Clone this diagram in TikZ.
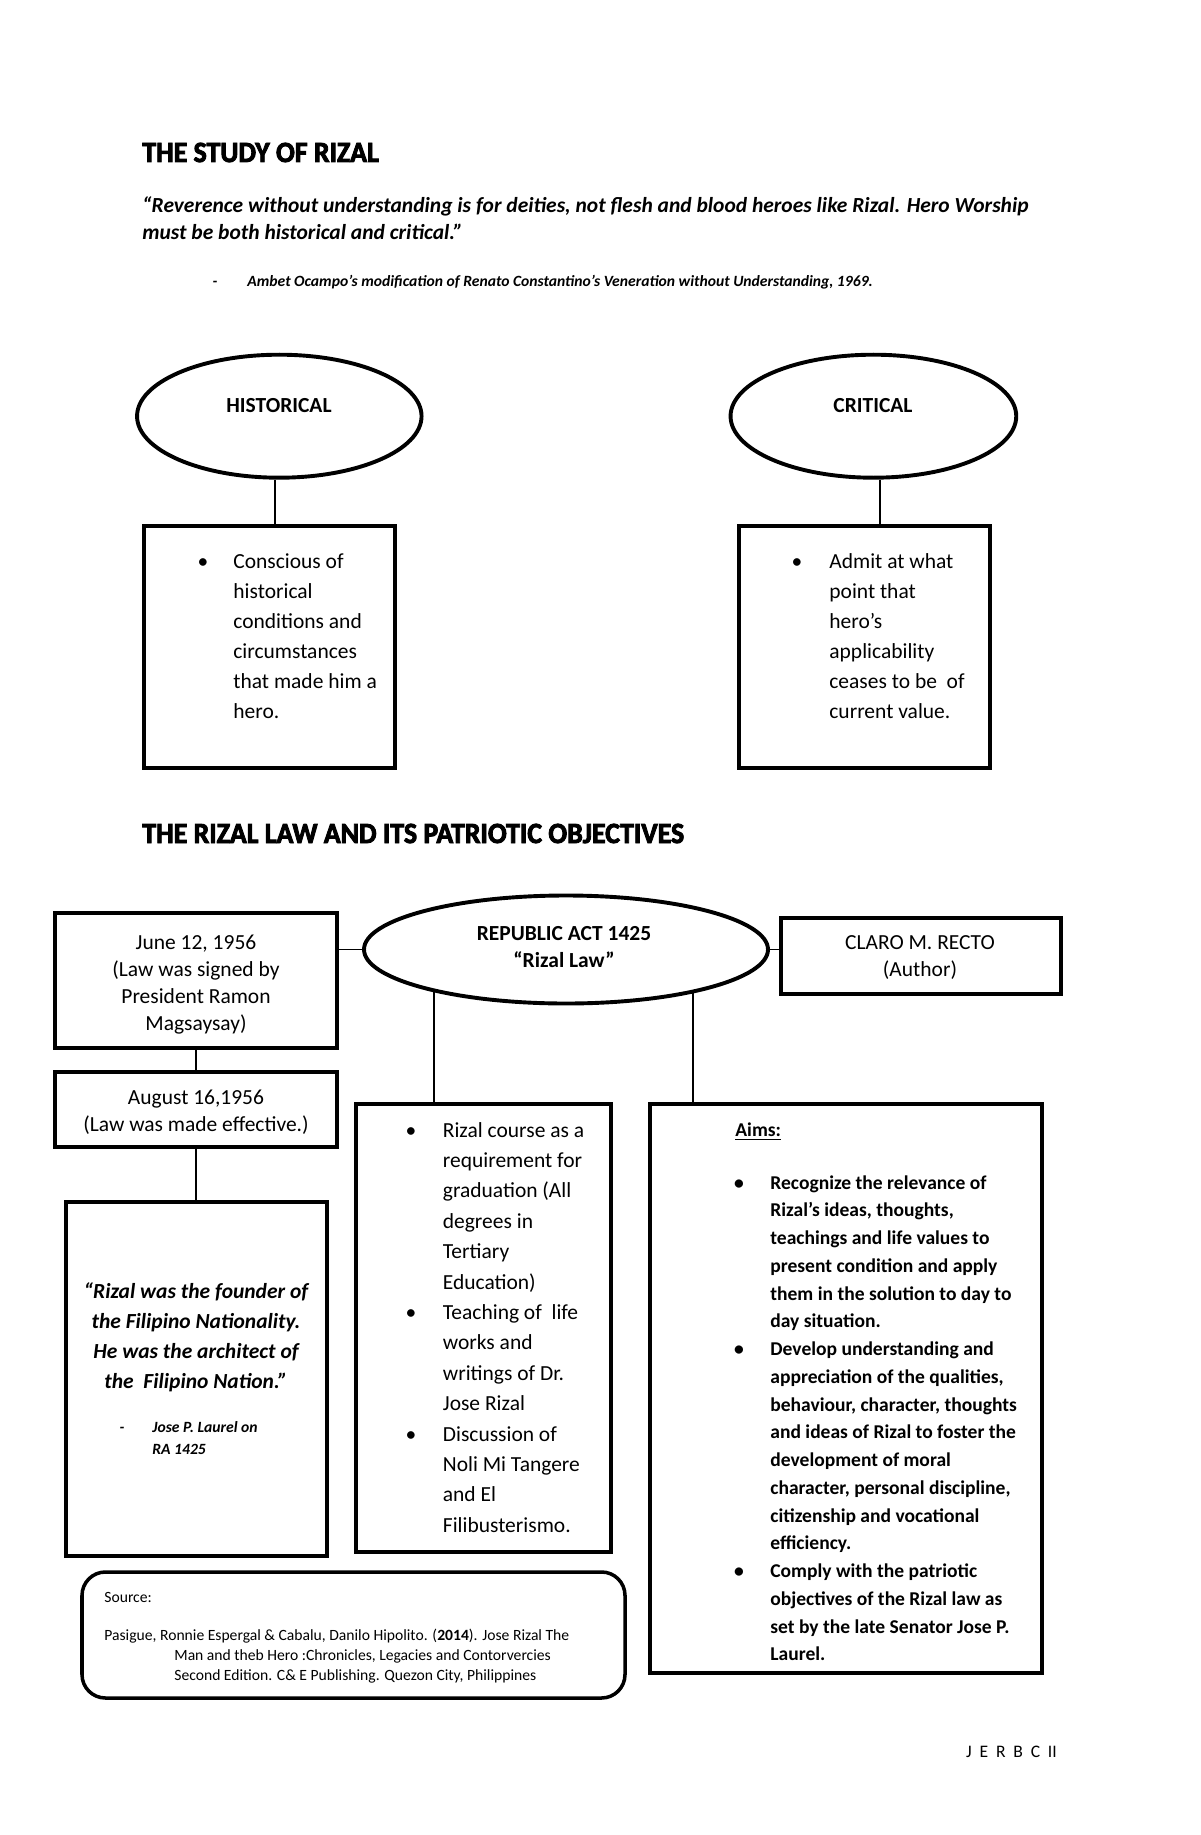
\documentclass[tikz,border=0pt]{standalone}
\usepackage{fontspec}
\setmainfont{Carlito}
\newfontfamily\titlefont[FakeBold=3,FakeStretch=0.95]{Carlito}
\usetikzlibrary{shapes.geometric,fit}
\def\pxu{0.5119pt}
\begin{document}
\begin{tikzpicture}[x=0.5119pt,y=-0.5119pt,
  box/.style={draw, line width=2.1pt, inner sep=0pt, rectangle},
  oval/.style={draw, ellipse, line width=2pt, inner sep=0pt},
  conn/.style={line width=1pt},
  ln/.style={inner sep=0pt, anchor=base west},
  lnc/.style={inner sep=0pt, anchor=base},
  body/.style={font=\fontsize{11}{13}\selectfont},
  bodyb/.style={font=\bfseries\fontsize{11}{13}\selectfont},
  aimsf/.style={font=\bfseries\fontsize{10}{12}\selectfont},
  qf/.style={font=\bfseries\itshape\fontsize{11}{13}\selectfont},
  smallq/.style={font=\bfseries\itshape\fontsize{8}{10}\selectfont},
  srcf/.style={font=\fontsize{8}{10}\selectfont},
  ttl/.style={font=\titlefont\bfseries\fontsize{15}{17}\selectfont}
]
\useasboundingbox[fill=white] (0,0) rectangle (1200,1835);

% ---------- Title and quote ----------
\node[ln,ttl] (t1) at (142,162) {THE STUDY OF RIZAL};
\node[ln,qf] (q1) at (142,212) {“Reverence without understanding is for deities, not flesh and blood heroes like Rizal. Hero Worship};
\node[ln,qf] (q2) at (142,239) {must be both historical and critical.”};
\node[lnc,smallq] (qd) at (215,286) {-};
\node[ln,smallq] (qa) at (247,286) {Ambet Ocampo’s modification of Renato Constantino’s Veneration without Understanding, 1969.};

% ---------- Historical / Critical ----------
\node[oval, minimum width=284.5*\pxu, minimum height=123*\pxu] (hist) at (279.3,416.2) {};
\node[oval, minimum width=285.7*\pxu, minimum height=123*\pxu] (crit) at (873.4,416.2) {};
\node[lnc,bodyb] (histl) at (279,412) {HISTORICAL};
\node[lnc,bodyb] (critl) at (873,412) {CRITICAL};
\node[box, fit={(144,526) (395,768)}] (hbox) {};
\node[box, fit={(739,526) (990,768)}] (cbox) {};
\draw[conn] ([xshift=-2pt]hist.south) -- ([xshift=-2pt]hist.south |- hbox.north);
\draw[conn] ([xshift=3.6pt]crit.south) -- ([xshift=3.6pt]crit.south |- cbox.north);

\node[lnc,body] (hb) at (203,568) {\textbullet};
\foreach \t [count=\i] in {{Conscious of},{historical},{conditions and},{circumstances},{that made him a},{hero.}}
  \node[ln,body] (hl\i) at (233,{568+30*(\i-1)}) {\t};
\node[lnc,body] (cb) at (797,568) {\textbullet};
\foreach \t [count=\i] in {{Admit at what},{point that},{hero’s},{applicability},{ceases to be\ \ of},{current value.}}
  \node[ln,body] (cl\i) at (829,{568+30*(\i-1)}) {\t};

% ---------- Rizal Law ----------
\node[ln,ttl] (t2) at (142,843) {THE RIZAL LAW AND ITS PATRIOTIC OBJECTIVES};

\node[box, fit={(55,913) (337,1048)}] (june) {};
\foreach \t [count=\i] in {{June 12, 1956},{(Law was signed by},{President Ramon},{Magsaysay)}}
  \node[lnc,body] (jl\i) at (196,{949+27*(\i-1)}) {\t};

\node[oval, minimum width=404*\pxu, minimum height=108*\pxu] (rep) at (566,949.5) {};
\node[lnc,bodyb] (rl1) at (564,940) {REPUBLIC ACT 1425};
\node[lnc,bodyb] (rl2) at (564,967) {“Rizal Law”};

\node[box, fit={(781,918) (1061,994)}] (claro) {};
\node[lnc,body] (cr1) at (920,949) {CLARO M. RECTO};
\node[lnc,body] (cr2) at (920,976) {(Author)};

\node[box, fit={(55,1072) (337,1147)}] (aug) {};
\node[lnc,body] (al1) at (196,1104) {August 16,1956};
\node[lnc,body] (al2) at (196,1131) {(Law was made effective.)};

\node[box, fit={(66,1202) (327,1556)}] (quote) {};
\foreach \t [count=\i] in {{“Rizal was the founder of},{the Filipino Nationality.},{He was the architect of},{the\ \ Filipino Nation.”}}
  \node[lnc,qf] (ql\i) at (196,{1298+30*(\i-1)}) {\t};
\node[lnc,smallq] (qld) at (122,1432) {-};
\node[ln,smallq] (qla1) at (152,1432) {Jose P. Laurel on};
\node[ln,smallq] (qla2) at (152,1454) {RA 1425};

\node[box, fit={(356,1104) (611,1552)}] (mid) {};
\foreach \k in {1,7,11}
  \node[lnc,body] (mb\k) at (411,{1137+30.4*(\k-1)}) {\textbullet};
\foreach \t [count=\i] in {{Rizal course as a},{requirement for},{graduation (All},{degrees in},{Tertiary},{Education)},{Teaching of\ \ life},{works and},{writings of Dr.},{Jose Rizal},{Discussion of},{Noli Mi Tangere},{and El},{Filibusterismo.}}
  \node[ln,body] (ml\i) at (442.5,{1137+30.4*(\i-1)}) {\t};

\node[box, fit={(650,1104) (1042,1673)}] (aims) {};
\node[ln,aimsf] (aimsh) at (735,1136) {\underline{Aims:}};
\foreach \k in {1,7,15}
  \node[lnc,aimsf] (ab\k) at (739,{1189+27.75*(\k-1)}) {\textbullet};
\foreach \t [count=\i] in {{Recognize the relevance of},{Rizal’s ideas, thoughts,},{teachings and life values to},{present condition and apply},{them in the solution to day to},{day situation.},{Develop understanding and},{appreciation of the qualities,},{behaviour, character, thoughts},{and ideas of Rizal to foster the},{development of moral},{character, personal discipline,},{citizenship and vocational},{efficiency.},{Comply with the patriotic},{objectives of the Rizal law as},{set by the late Senator Jose P.},{Laurel.}}
  \node[ln,aimsf] (alx\i) at (770,{1189+27.75*(\i-1)}) {\t};

\draw[conn] (june.east |- rep.west) -- (rep.west);
\draw[conn] (rep.east) -- (rep.east -| claro.west);
\draw[conn] (june.south) -- (aug.north);
\draw[conn] (aug.south) -- (aug.south |- quote.north);
\draw[conn] (rep.198) -- (rep.198 |- mid.north);
\draw[conn] (rep.341) -- (rep.341 |- aims.north);

% ---------- Source ----------
\node[box, rounded corners=12pt, line width=1.8pt, fit={(82,1572) (625,1698)}] (src) {};
\node[ln,srcf] (s0) at (104,1602) {Source:};
\node[ln,srcf] (s1) at (104,1640.5) {Pasigue, Ronnie Espergal \& Cabalu, Danilo Hipolito. (\textbf{2014}). Jose Rizal The};
\node[ln,srcf] (s2) at (174,1660.4) {Man and theb Hero :Chronicles, Legacies and Contorvercies};
\node[ln,srcf] (s3) at (174,1680.3) {Second Edition. C\& E Publishing. Quezon City, Philippines};

\node[lnc,font=\fontsize{9}{11}\selectfont] (jer) at (1011.5,1757.5) {J\hspace{4pt}E\hspace{4pt}R\hspace{4pt}B\hspace{4pt}C\hspace{4pt}II};
\end{tikzpicture}
\end{document}
